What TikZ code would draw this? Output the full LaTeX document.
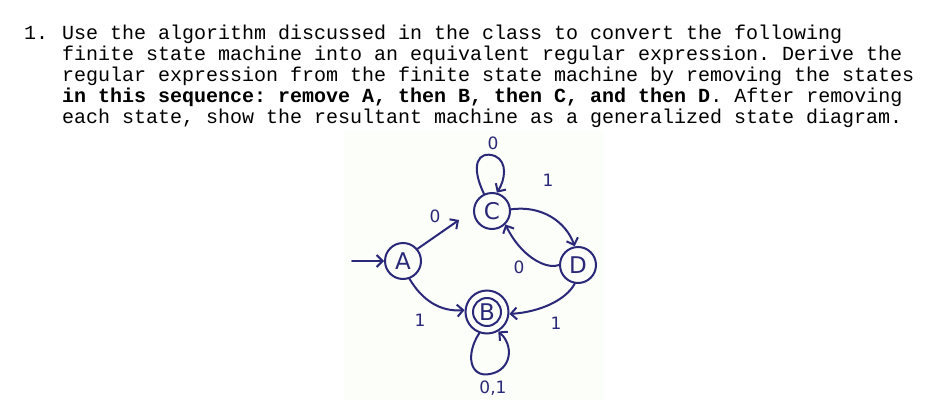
\documentclass[tikz,border=0pt]{standalone}
\usepackage{fontspec}
\setmonofont{Liberation Mono}
\newfontfamily\handfont{DejaVu Sans}
\usetikzlibrary{arrows.meta}
\definecolor{ink}{RGB}{42,40,120}
\definecolor{paper}{RGB}{252,254,250}
\begin{document}
\begin{tikzpicture}[x=1pt,y=-1pt,
  txt/.style={anchor=base west,inner sep=0pt,font=\ttfamily\fontsize{20}{21}\selectfont},
  st/.style={circle,draw=ink,line width=2pt,minimum size=36pt,inner sep=0pt,text=ink,font=\handfont\fontsize{23}{23}\selectfont},
  accout/.style={circle,draw=ink,line width=2pt,minimum size=43pt,inner sep=0pt},
  accin/.style={st,minimum size=28pt},
  edge/.style={draw=ink,line width=2pt,line cap=round,-{Straight Barb[length=6pt,width=12pt,line width=2pt]}},
  lab/.style={text=ink,font=\handfont\fontsize{17}{17}\selectfont,inner sep=0pt}]
\useasboundingbox (0,0) rectangle (951,407);
\fill[white] (0,0) rectangle (951,407);
\fill[paper] (344,130) rectangle (604,400);
% text
\node[txt] (n1) at (24,39) {1.};
\node[txt] (l1) at (62,39) {Use the algorithm discussed in the class to convert the following};
\node[txt] (l2) at (62,60) {finite state machine into an equivalent regular expression. Derive the};
\node[txt] (l3) at (62,81) {regular expression from the finite state machine by removing the states};
\node[txt] (l4) at (62,102) {\bfseries in this sequence: remove A, then B, then C, and then D\mdseries. After removing};
\node[txt] (l5) at (62,123) {each state, show the resultant machine as a generalized state diagram.};
% states
\node[st] (A) at (403,261) {A};
\node[st] (C) at (492,211) {C};
\node[st] (D) at (578,265) {D};
\node[accout] (B) at (487,312) {};
\node[accin] (Bi) at (B) {B};
\coordinate (s) at (352,261);
% edges
\draw[edge] (s) -- (A);
\draw[edge] (A.40) -- (459,220);
\node[lab] (l0a) at (435,216) {0};
\draw[edge] (C.115) .. controls (470,165) and (478,150) .. (495,156) .. controls (508,162) and (505,180) .. (C.75);
\node[lab] (l0c) at (493,143) {0};
\draw[edge] (C.5) .. controls (542,205) and (566,222) .. (D.100);
\node[lab] (l1c) at (548,180) {1};
\draw[edge] (D.180) .. controls (545,270) and (520,255) .. (C.-45);
\node[lab] (l0d) at (519,267) {0};
\draw[edge] (A.-70) .. controls (422,300) and (440,312) .. (B.175);
\node[lab] (l1a) at (420,320) {1};
\draw[edge] (D.-100) .. controls (566,300) and (540,312) .. (B.-5);
\node[lab] (l1d) at (556,323) {1};
\draw[edge] (B.-110) .. controls (465,355) and (470,378) .. (490,374) .. controls (512,370) and (514,345) .. (B.-60);
\node[lab] (l01) at (493,388) {0,1};
\end{tikzpicture}
\end{document}
